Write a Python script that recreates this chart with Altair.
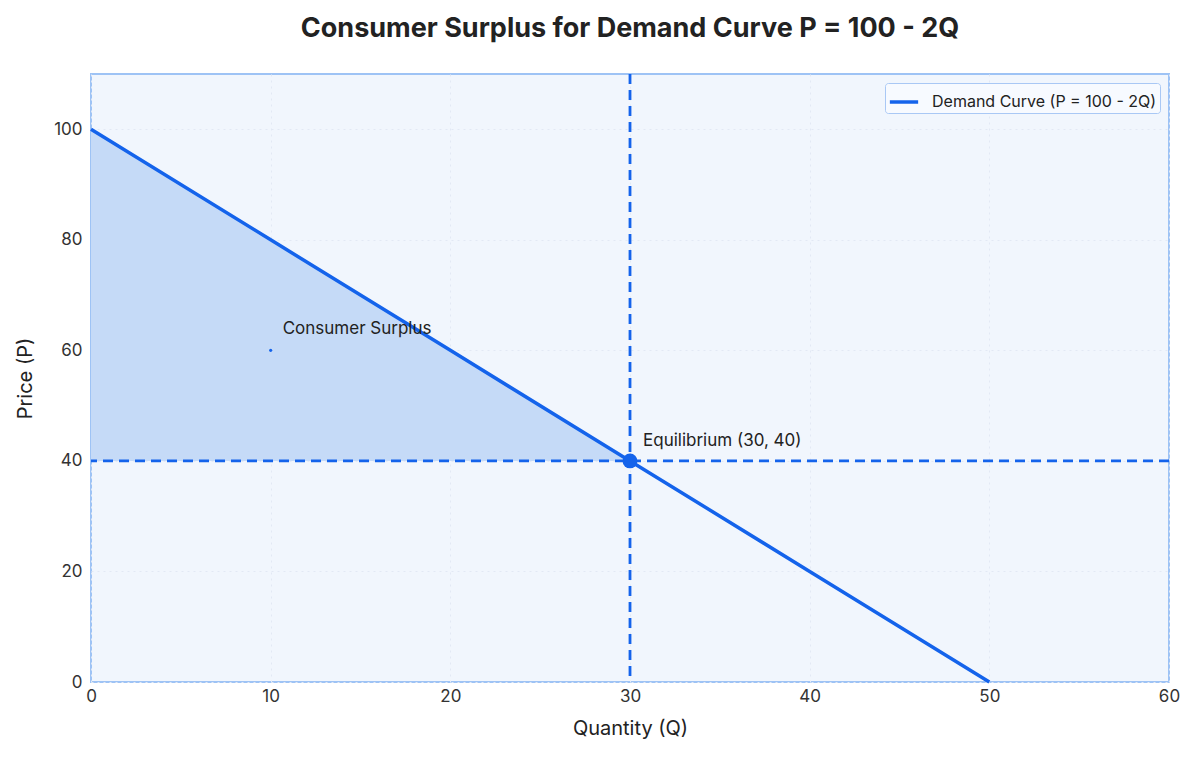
import altair as alt
import pandas as pd

# Data
demand_q = [0, 10, 20, 30, 40, 50]
demand_p = [100, 80, 60, 40, 20, 0]
surplus_q = [0, 10, 20, 30]
surplus_p = [100, 80, 60, 40]
eq_q, eq_p = 30, 40
cs_label_q, cs_label_p = 10, 60
legend_label = "Demand Curve (P = 100 - 2Q)"

FONT = "Inter"
BLUE = "#1463eb"

demand_df = pd.DataFrame({"Q": demand_q, "P": demand_p, "series": [legend_label] * len(demand_q)})
surplus_df = pd.DataFrame({"Q": surplus_q, "P": surplus_p, "P0": [eq_p] * len(surplus_q)})
eq_df = pd.DataFrame({"Q": [eq_q], "P": [eq_p], "label": [f"Equilibrium ({eq_q}, {eq_p})"]})
cs_df = pd.DataFrame({"Q": [cs_label_q], "P": [cs_label_p], "label": ["Consumer Surplus"]})

xscale = alt.Scale(domain=[0, 60], nice=False)
yscale = alt.Scale(domain=[0, 110], nice=False)

xax = alt.Axis(title="Quantity (Q)", values=[0, 10, 20, 30, 40, 50, 60], ticks=False, domain=False,
               labelFontSize=17, titleFontSize=20, labelPadding=6, titlePadding=14, labelFlush=False,
               gridDash=[2, 4], gridColor="#e2e9f4", labelColor="#333333", titleColor="#222222",
               titleFontWeight="normal", labelFont=FONT, titleFont=FONT)
yax = alt.Axis(title="Price (P)", values=[0, 20, 40, 60, 80, 100], ticks=False, domain=False,
               labelFontSize=17, titleFontSize=20, labelPadding=9, titlePadding=18, labelFlush=False,
               gridDash=[2, 4], gridColor="#e2e9f4", labelColor="#333333", titleColor="#222222",
               titleFontWeight="normal", labelFont=FONT, titleFont=FONT)

area = alt.Chart(surplus_df).mark_area(color="#c5daf7", opacity=1).encode(
    x=alt.X("Q:Q", scale=xscale, axis=xax),
    y=alt.Y("P:Q", scale=yscale, axis=yax),
    y2="P0:Q",
)

line = alt.Chart(demand_df).mark_line(strokeWidth=3.5).encode(
    x=alt.X("Q:Q", scale=xscale),
    y=alt.Y("P:Q", scale=yscale),
    color=alt.Color("series:N", scale=alt.Scale(domain=[legend_label], range=[BLUE]),
                    legend=alt.Legend(title=None, orient="top-right", symbolType="stroke",
                                      symbolStrokeWidth=3.5, symbolSize=800, labelFontSize=16,
                                      labelFont=FONT, labelColor="#222222", labelLimit=400,
                                      labelOffset=12,
                                      fillColor="#f7faff", strokeColor="#a9c8f5", padding=3,
                                      cornerRadius=3, offset=9)),
)

vrule = alt.Chart(eq_df).mark_rule(color=BLUE, strokeWidth=2.8, strokeDash=[10, 6]).encode(
    x=alt.X("Q:Q", scale=xscale))
hrule = alt.Chart(eq_df).mark_rule(color=BLUE, strokeWidth=2.8, strokeDash=[10, 6]).encode(
    y=alt.Y("P:Q", scale=yscale))

eq_point = alt.Chart(eq_df).mark_point(filled=True, size=220, color=BLUE, opacity=1).encode(
    x=alt.X("Q:Q", scale=xscale), y=alt.Y("P:Q", scale=yscale))
eq_text = alt.Chart(eq_df).mark_text(align="left", baseline="bottom", dx=13, dy=-11, fontSize=17,
                                     font=FONT, color="#222222").encode(
    x=alt.X("Q:Q", scale=xscale), y=alt.Y("P:Q", scale=yscale), text="label:N")

cs_point = alt.Chart(cs_df).mark_point(filled=True, size=10, color=BLUE, opacity=1).encode(
    x=alt.X("Q:Q", scale=xscale), y=alt.Y("P:Q", scale=yscale))
cs_text = alt.Chart(cs_df).mark_text(align="left", baseline="bottom", dx=12, dy=-12, fontSize=17,
                                     font=FONT, color="#222222").encode(
    x=alt.X("Q:Q", scale=xscale), y=alt.Y("P:Q", scale=yscale), text="label:N")

chart = alt.layer(area, line, vrule, hrule, eq_point, eq_text, cs_point, cs_text).properties(
    width=1078, height=608,
    title=alt.TitleParams("Consumer Surplus for Demand Curve P = 100 - 2Q", fontSize=27,
                          font=FONT, fontWeight="bold", color="#222222", anchor="middle", offset=30),
    padding={"left": 91, "top": 74, "right": 31, "bottom": 78},
    autosize=alt.AutoSizeParams(type="none"),
).configure_view(
    fill="#f1f6fd", stroke="#9ec3f5", strokeWidth=2
)

chart.save("out.html", embed_options={"renderer": "svg", "actions": False})
